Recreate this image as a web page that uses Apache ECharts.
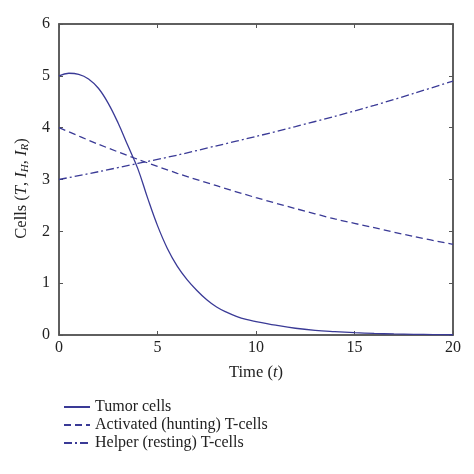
<!DOCTYPE html>
<html>
<head>
<meta charset="utf-8">
<script src="https://cdn.jsdelivr.net/npm/echarts@6/dist/echarts.min.js"></script>
<style>
  html, body { margin: 0; padding: 0; background: #fff; }
  #chart { width: 474px; height: 474px; }
</style>
</head>
<body>
<div id="chart"></div>
<script>
// values
var tumorT = [0, 0.5, 1, 1.5, 2, 2.5, 3, 3.5, 4, 4.5, 5, 5.5, 6, 6.5, 7, 7.5, 8, 8.5, 9, 9.5, 10, 11, 12, 13, 14, 15, 16, 17, 18, 19, 20]
var tumorV = [5.00, 5.05, 5.03, 4.94, 4.76, 4.47, 4.09, 3.65, 3.21, 2.64, 2.11, 1.67, 1.33, 1.07, 0.86, 0.68, 0.54, 0.44, 0.36, 0.30, 0.26, 0.19, 0.13, 0.09, 0.065, 0.045, 0.03, 0.02, 0.013, 0.008, 0.005]
var cellT = [0, 2, 4, 6, 8, 10, 12, 14, 16, 18, 20]
var huntingV = [4.00, 3.68, 3.39, 3.12, 2.88, 2.65, 2.44, 2.24, 2.07, 1.90, 1.75]
var restingV = [3.00, 3.15, 3.31, 3.47, 3.65, 3.83, 4.02, 4.22, 4.43, 4.66, 4.90]
var seriesNames = ['Tumor cells', 'Activated (hunting) T-cells', 'Helper (resting) T-cells']

function pairs(xs, ys) {
  var out = []
  for (var i = 0; i < xs.length; i++) out.push([xs[i], ys[i]])
  return out
}

var font = 'Liberation Serif'
var lineColor = '#3a3a96'
var axisColor = '#555'

var chart = echarts.init(document.getElementById('chart'))
chart.setOption({
  backgroundColor: '#fff',
  animation: false,
  textStyle: { fontFamily: font },
  grid: { left: 59, right: 21, top: 24, bottom: 139, show: true, borderColor: axisColor, borderWidth: 1.5 },
  legend: {
    orient: 'vertical',
    left: 58,
    top: 394,
    itemWidth: 26,
    itemHeight: 10,
    itemGap: 2,
    itemStyle: { color: 'transparent', borderColor: 'transparent', borderWidth: 0 },
    textStyle: { fontFamily: font, fontSize: 16, color: '#222' },
    data: seriesNames
  },
  xAxis: [{
    type: 'value',
    min: 0, max: 20, interval: 5,
    name: '{n|Time (}{i|t}{n|)}',
    nameLocation: 'middle',
    nameGap: 29,
    nameTextStyle: {
      rich: {
        n: { fontFamily: font, fontSize: 16.5, color: '#222' },
        i: { fontFamily: font, fontSize: 16.5, fontStyle: 'italic', color: '#222' }
      }
    },
    axisLine: { onZero: false, lineStyle: { color: axisColor, width: 1.5 } },
    axisTick: { inside: true, length: 4, lineStyle: { color: axisColor } },
    axisLabel: { fontFamily: font, fontSize: 16, color: '#222', margin: 5 },
    splitLine: { show: false }
  }, {
    type: 'value',
    position: 'top',
    min: 0, max: 20, interval: 5,
    axisLine: { show: true, onZero: false, lineStyle: { color: axisColor, width: 1.5 } },
    axisTick: { show: true, inside: true, length: 4, lineStyle: { color: axisColor } },
    axisLabel: { show: false },
    splitLine: { show: false }
  }],
  yAxis: [{
    type: 'value',
    min: 0, max: 6, interval: 1,
    name: '{n|Cells (}{i|T}{n|, }{i|I}{s|H}{n|, }{i|I}{s|R}{n|)}',
    nameLocation: 'middle',
    nameGap: 28,
    nameRotate: 90,
    nameTextStyle: {
      padding: [0, 18, 0, 0],
      rich: {
        n: { fontFamily: font, fontSize: 16.5, color: '#222' },
        i: { fontFamily: font, fontSize: 16.5, fontStyle: 'italic', color: '#222' },
        s: { fontFamily: font, fontSize: 11, fontStyle: 'italic', color: '#222', verticalAlign: 'bottom', padding: [7, 0, 0, 0] }
      }
    },
    axisLine: { onZero: false, lineStyle: { color: axisColor, width: 1.5 } },
    axisTick: { inside: true, length: 4, lineStyle: { color: axisColor } },
    axisLabel: { fontFamily: font, fontSize: 16, color: '#222', margin: 9 },
    splitLine: { show: false }
  }, {
    type: 'value',
    position: 'right',
    min: 0, max: 6, interval: 1,
    axisLine: { show: true, onZero: false, lineStyle: { color: axisColor, width: 1.5 } },
    axisTick: { show: true, inside: true, length: 4, lineStyle: { color: axisColor } },
    axisLabel: { show: false },
    splitLine: { show: false }
  }],
  series: [{
    name: seriesNames[0],
    type: 'line',
    smooth: 0.4,
    symbol: 'none',
    data: pairs(tumorT, tumorV),
    lineStyle: { color: lineColor, width: 1.3, type: 'solid' },
    itemStyle: { color: lineColor }
  }, {
    name: seriesNames[1],
    type: 'line',
    smooth: 0.3,
    symbol: 'none',
    data: pairs(cellT, huntingV),
    lineStyle: { color: lineColor, width: 1.3, type: [7, 4] },
    itemStyle: { color: lineColor }
  }, {
    name: seriesNames[2],
    type: 'line',
    xAxisIndex: 1,
    yAxisIndex: 1,
    smooth: 0.3,
    symbol: 'none',
    data: pairs(cellT, restingV),
    lineStyle: { color: lineColor, width: 1.3, type: [8, 3, 2, 3] },
    itemStyle: { color: lineColor }
  }]
})
</script>
</body>
</html>
